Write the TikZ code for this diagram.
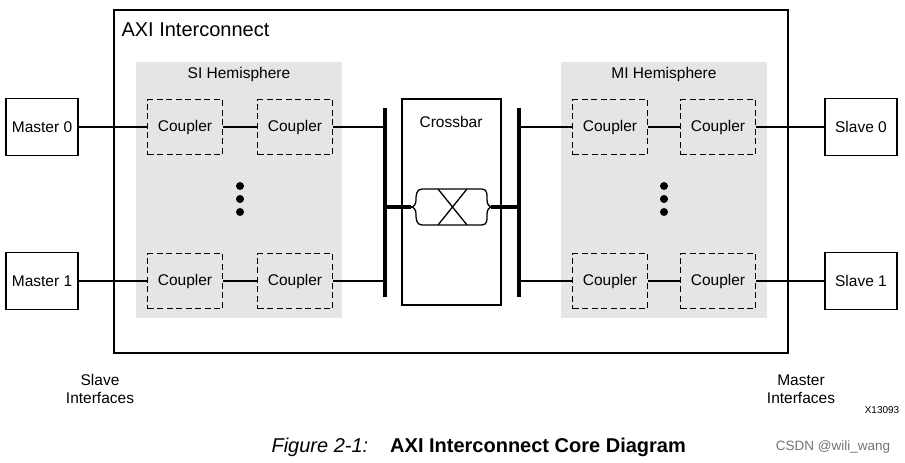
\documentclass[tikz,border=0pt]{standalone}
\usepackage{fontspec}
\setmainfont{Liberation Sans}
\begin{document}
\begin{tikzpicture}[x=1pt,y=-1pt,
    every node/.style={align=center,font=\fontsize{15.5}{18}\selectfont},
    solid box/.style={draw,line width=1.4pt,fill=white,minimum width=72pt,minimum height=57pt},
    coupler/.style={draw,line width=1.3pt,dash pattern=on 6pt off 3.5pt,minimum width=75pt,minimum height=55pt},
    hemi/.style={fill=black!10,draw=none},
    bus/.style={line width=4pt},
    wire/.style={line width=1.3pt},
    ]
\useasboundingbox (0,0) rectangle (905,463);
% outer box
\draw[line width=1.4pt] (114,10) rectangle (788,353);
\node[anchor=west,font=\fontsize{20}{22}\selectfont] (title) at (118,30) {AXI Interconnect};
% hemispheres
\fill[hemi] (136,62) rectangle (342,318);
\fill[hemi] (561,62) rectangle (767,318);
\node (si) at (239,74) {SI Hemisphere};
\node (mi) at (664,74) {MI Hemisphere};
% masters and slaves
\node[solid box] (m0) at (42,127) {Master 0};
\node[solid box] (m1) at (42,281) {Master 1};
\node[solid box] (s0) at (861,127) {Slave 0};
\node[solid box] (s1) at (861,281) {Slave 1};
% couplers
\node[coupler] (c1) at (185,127) {Coupler};
\node[coupler] (c2) at (295,127) {Coupler};
\node[coupler] (c3) at (185,281) {Coupler};
\node[coupler] (c4) at (295,281) {Coupler};
\node[coupler] (c5) at (610,127) {Coupler};
\node[coupler] (c6) at (718,127) {Coupler};
\node[coupler] (c7) at (610,281) {Coupler};
\node[coupler] (c8) at (718,281) {Coupler};
% dots
\foreach \y in {186,199,212} {
  \fill (240,\y) circle (4pt);
  \fill (664,\y) circle (4pt);
}
% buses
\coordinate (lbt) at (385,108);
\coordinate (lbb) at (385,297);
\coordinate (rbt) at (519,108);
\coordinate (rbb) at (519,297);
\draw[bus] (lbt) -- (lbb);
\draw[bus] (rbt) -- (rbb);
% crossbar
\draw[line width=1.4pt] (402,99) rectangle (501,305);
\node (xb) at (451,122) {Crossbar};
% wires
\draw[wire] (m0) -- (c1);
\draw[wire] (c1) -- (c2);
\draw[wire] (c2.east) -- (385,127);
\draw[wire] (m1) -- (c3);
\draw[wire] (c3) -- (c4);
\draw[wire] (c4.east) -- (385,281);
\draw[wire] (519,127) -- (c5.west);
\draw[wire] (c5) -- (c6);
\draw[wire] (c6) -- (s0);
\draw[wire] (519,281) -- (c7.west);
\draw[wire] (c7) -- (c8);
\draw[wire] (c8) -- (s1);
% switch
\draw[bus] (385,207) -- (411,207);
\draw[bus] (491,207) -- (519,207);
\draw[line width=1.3pt] (422,189) -- (482,189)
  .. controls (488,189) and (487,196) .. (487,200)
  .. controls (487,204) and (489,207) .. (492,207)
  .. controls (489,207) and (487,210) .. (487,214)
  .. controls (487,218) and (488,225) .. (482,225)
  -- (422,225)
  .. controls (416,225) and (416,218) .. (416,214)
  .. controls (416,210) and (414,207) .. (411,207)
  .. controls (414,207) and (416,204) .. (416,200)
  .. controls (416,196) and (416,189) .. (422,189);
\draw[line width=1.3pt] (438,189) -- (467,225);
\draw[line width=1.3pt] (467,189) -- (438,225);
% labels
\node (sl) at (100,389) {Slave\\Interfaces};
\node (ml) at (801,389) {Master\\Interfaces};
\node[font=\fontsize{10}{12}\selectfont] (id) at (882,410) {X13093};
\node[anchor=west,font=\fontsize{20}{22}\selectfont] (cap) at (268,447) {\textit{Figure 2-1:}\hspace{22pt}\textbf{AXI Interconnect Core Diagram}};
\node[font=\fontsize{13.5}{15}\selectfont,text=black!55] (csdn) at (833,447) {CSDN @wili\_wang};
\end{tikzpicture}
\end{document}
